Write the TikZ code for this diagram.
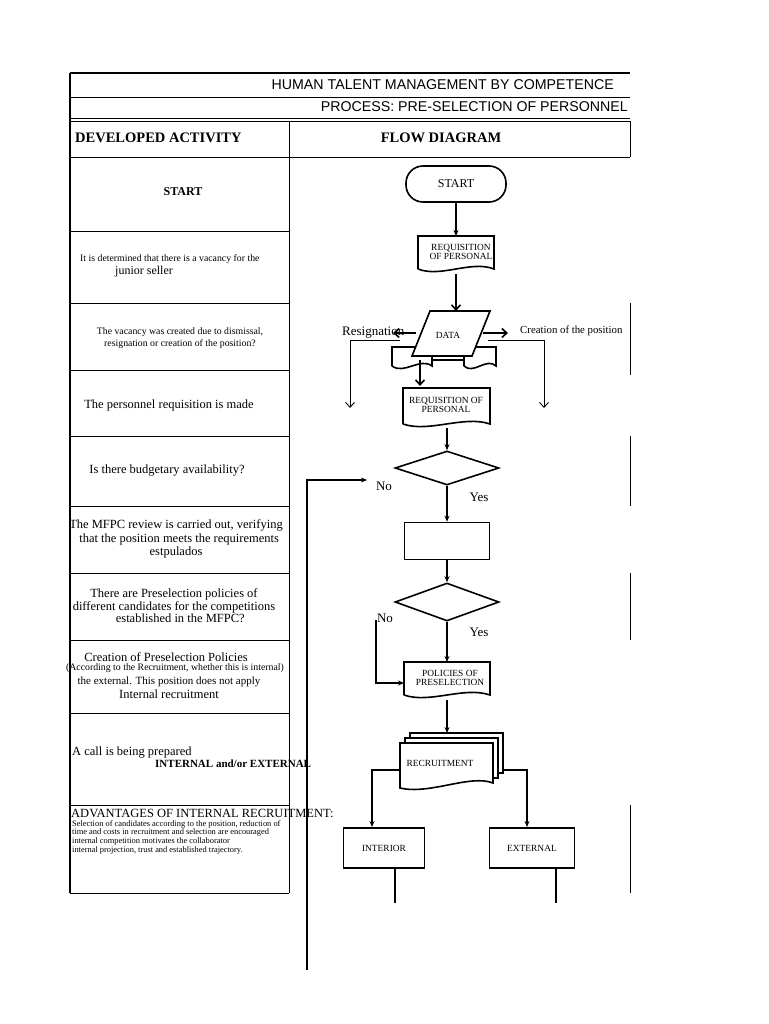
\documentclass[tikz,border=0pt]{standalone}
\usepackage{fontspec}
\setmainfont{Liberation Serif}
\newfontfamily\hdr{Liberation Sans}
\usetikzlibrary{shapes.geometric,arrows.meta}
\begin{document}
\begin{tikzpicture}[x=1pt,y=-1pt,
  lin/.style={line width=0.6pt},
  fl/.style={line width=1.6pt},
  arr/.style={fl,-{Stealth[length=6pt,width=5pt]}},
  oarr/.style={fl,-{Straight Barb[length=5pt,width=9pt]}},
  tx/.style={align=center,inner sep=0pt},
  sm/.style={font=\fontsize{9.4}{9.6}\selectfont},
  md/.style={font=\fontsize{12.5}{13}\selectfont},
]
\useasboundingbox (0,0) rectangle (768,1024);
% table
\draw[line width=2pt] (70,73) -- (630,73);
\draw[line width=2pt] (70,73) -- (70,893);
\draw[lin] (70,97) -- (630,97);
\draw[lin] (70,118) -- (630,118);
\draw[lin] (70,121) -- (630,121);
\draw[lin] (289,121) -- (289,893);
\draw[lin] (630,121) -- (630,157);
\draw[lin] (70,157) -- (630,157);
\foreach \y in {231,303,370,436,506,573,640,713,805,893} \draw[lin] (70,\y) -- (289,\y);
\foreach \a/\b in {303/375,436/506,573/640,805/893} \draw[lin] (630,\a) -- (630,\b);
\node[tx,anchor=east,font=\hdr\fontsize{14.2}{15}\selectfont] (t1) at (614,85) {HUMAN TALENT MANAGEMENT BY COMPETENCE};
\node[tx,anchor=east,font=\hdr\fontsize{14.2}{15}\selectfont] (t2) at (628,107) {PROCESS: PRE-SELECTION OF PERSONNEL};
\node[tx,anchor=west,font=\bfseries\fontsize{14.5}{15}\selectfont] (h1) at (75,138) {DEVELOPED ACTIVITY};
\node[tx,font=\bfseries\fontsize{14.5}{15}\selectfont] (h2) at (441,138) {FLOW DIAGRAM};
% left column texts
\node[tx,font=\bfseries\fontsize{12}{13}\selectfont] (l1) at (183,192) {START};
\node[tx,font=\fontsize{9.8}{10}\selectfont,anchor=west] (l2) at (80,259) {It is determined that there is a vacancy for the};
\node[tx,anchor=west,font=\fontsize{12}{13}\selectfont] (l2b) at (115,272) {junior seller};
\node[tx,font=\fontsize{9.8}{12}\selectfont] (l3) at (180,338) {The vacancy was created due to dismissal,\\ resignation or creation of the position?};
\node[tx,md] (l4) at (169,405) {The personnel requisition is made};
\node[tx,md] (l5) at (167,471) {Is there budgetary availability?};
\node[tx,font=\fontsize{12.5}{13.5}\selectfont] (l6) at (176,539) {The MFPC review is carried out, verifying\\ \ \ that the position meets the requirements\\ estpulados};
\node[tx,font=\fontsize{12.5}{12.5}\selectfont] (l7) at (174,606) {There are Preselection policies of\\ different candidates for the competitions\\ \quad established in the MFPC?};
\node[tx,md] (l8a) at (166,657) {Creation of Preselection Policies};
\node[tx,font=\fontsize{9.8}{10}\selectfont] (l8b) at (175,668) {(According to the Recruitment, whether this is internal)};
\node[tx,font=\fontsize{11}{12}\selectfont] (l8c) at (169,682) {the external. This position does not apply};
\node[tx,md] (l8d) at (169,694) {Internal recruitment};
\node[tx,anchor=west,md] (l9a) at (72,753) {A call is being prepared};
\node[tx,anchor=west,font=\bfseries\fontsize{11}{12}\selectfont] (l9b) at (155,764) {INTERNAL and/or EXTERNAL};
\node[tx,anchor=west,md] (l10) at (71,813) {ADVANTAGES OF INTERNAL RECRUITMENT:};
\node[tx,anchor=north west,align=left,font=\fontsize{8.4}{7.5}\selectfont] (l10b) at (72,820) {Selection of candidates according to the position, reduction of\\ time and costs in recruitment and selection are encouraged\\ internal competition motivates the collaborator\\ internal projection, trust and established trajectory.};
% flow
\node[fl,draw,rounded corners=17pt,minimum width=100pt,minimum height=36pt,font=\fontsize{12}{13}\selectfont] (start) at (456,184) {START};
\newcommand\docshape[5]{% name, x1,y1,x2,y2
  \draw[fl,fill=white] (#2,#5) -- (#2,#3) -- (#4,#3) -- (#4,#5) .. controls ({#2+0.7*(#4-#2)},{#5-9}) and ({#2+0.3*(#4-#2)},{#5+9}) .. (#2,#5);
  \coordinate (#1) at ({(#2+#4)/2},{(#3+#5)/2});
}
\docshape{req1}{418}{236}{494}{269}
\node[tx,sm] (req1t) at (461,252) {REQUISITION\\OF PERSONAL};
\coordinate (req1top) at (456,236);
\coordinate (req1bot) at (456,274);
\draw[arr] (start) -- (req1top);
% data
\docshape{dl}{392}{347}{432}{366}
\docshape{dr}{464}{347}{496}{366}
\draw[fl] (432,360) -- (464,360);
\draw[fl,fill=white] (430,311) -- (490,311) -- (472,356) -- (412,356) -- cycle;
\node[tx,sm] (data) at (448,335) {DATA};
\coordinate (datatop) at (456,311);
\draw[oarr] (req1bot) -- (datatop);
\draw[oarr] (420,360) -- (420,386);
\draw[oarr] (416,333) -- (393,333);
\draw[oarr] (483,333) -- (508,333);
\node[tx,anchor=west,font=\fontsize{13}{14}\selectfont] (res) at (342,333) {Resignation};
\node[tx,anchor=west,font=\fontsize{10.8}{11}\selectfont] (cre) at (520,331) {Creation of the position};
\draw[oarr,line width=0.9pt] (400,340) -- (350,340) -- (350,408);
\draw[oarr,line width=0.9pt] (488,340) -- (544,340) -- (544,408);
\docshape{req2}{403}{388}{490}{424}
\node[tx,sm] (req2t) at (446,405) {REQUISITION OF\\PERSONAL};
\node[fl,draw,diamond,aspect=3,minimum width=104pt,minimum height=34pt,inner sep=0pt] (d1) at (447,468) {};
\draw[arr] (447,428) -- (d1.north);
\node[fl,draw,minimum width=85pt,minimum height=37pt] (box) at (447,541) {};
\draw[arr] (d1.south) -- (box.north);
\node[tx,font=\fontsize{13}{14}\selectfont] (yes1) at (479,497) {Yes};
\node[tx,font=\fontsize{13}{14}\selectfont] (no1) at (384,486) {No};
\coordinate (loopb) at (307,970);
\coordinate (loopt) at (307,480);
\draw[fl,-{Stealth[length=6pt,width=5pt]}] (loopb) -- (loopt) -- (367,480);
\node[fl,draw,diamond,aspect=2.7,minimum width=104pt,minimum height=38pt,inner sep=0pt] (d2) at (447,602) {};
\draw[arr] (box.south) -- (d2.north);
\node[tx,font=\fontsize{13}{14}\selectfont] (yes2) at (479,632) {Yes};
\node[tx,font=\fontsize{13}{14}\selectfont] (no2) at (385,618) {No};
\docshape{pol}{404}{662}{490}{695}
\node[tx,sm] (polt) at (450,678) {POLICIES OF\\PRESELECTION};
\draw[arr] (d2.south) -- (447,662);
\draw[fl,-{Stealth[length=6pt,width=5pt]}] (376,620) -- (376,683) -- (404,683);
% recruitment stack
\draw[fl,fill=white] (410,733) rectangle (503,773);
\draw[fl,fill=white] (405,738) rectangle (498,778);
\draw[fl,fill=white] (400,743) -- (493,743) -- (493,783) .. controls (470,774) and (430,795) .. (400,788) -- cycle;
\node[tx,sm] (recr) at (440,763) {RECRUITMENT};
\draw[arr] (447,700) -- (447,733);
\draw[arr] (400,770) -- (372,770) -- (372,827);
\draw[arr] (503,770) -- (527,770) -- (527,827);
\node[fl,draw,minimum width=81pt,minimum height=40pt,sm] (int) at (384,848) {INTERIOR};
\node[fl,draw,minimum width=85pt,minimum height=40pt,sm] (ext) at (532,848) {EXTERNAL};
\draw[fl] (395,868) -- (395,903);
\draw[fl] (556,868) -- (556,903);
\end{tikzpicture}
\end{document}
